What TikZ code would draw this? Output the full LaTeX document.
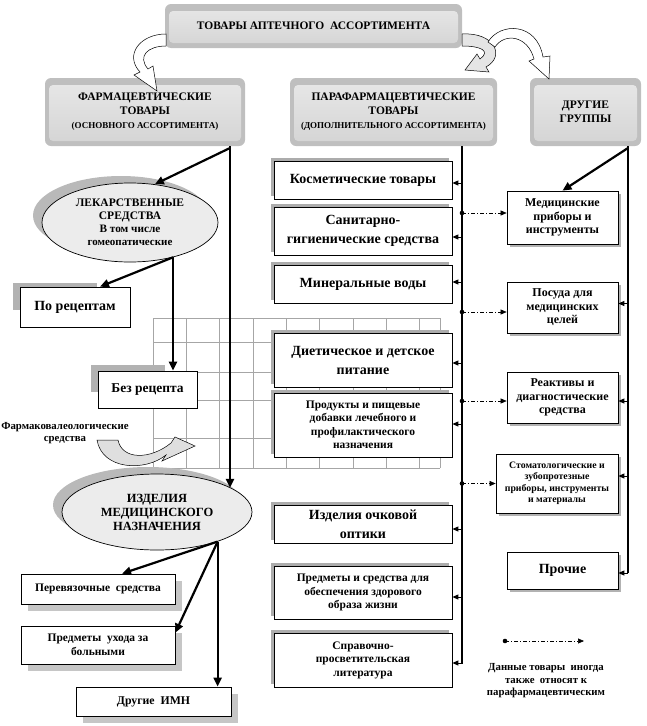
\documentclass[tikz,border=0pt]{standalone}
\usepackage{fontspec}
\setmainfont{Liberation Serif}
\usetikzlibrary{shapes.geometric,shadows,arrows.meta}
\newcommand\fsz[2]{\fontsize{#1}{#2}\selectfont}
\begin{document}
\begin{tikzpicture}[x=1pt,y=-1pt,
  font=\bfseries,
  fs/.style 2 args={font=\bfseries\fsz{#1}{#2}},
  bevel/.style={rounded corners=6pt, fill=gray!50, align=center, inner sep=2pt,
    path picture={\fill[top color=gray!18, bottom color=gray!34, rounded corners=4pt]
      ([shift={(4pt,-7pt)}]path picture bounding box.north west) rectangle
      ([shift={(-4pt,5pt)}]path picture bounding box.south east);}},
  pbox/.style={draw=black, line width=0.7pt, fill=white, align=center, inner sep=1pt,
    drop shadow={shadow xshift=-3pt, shadow yshift=3pt, fill=gray!65, opacity=1}},
  rbox/.style={draw=black, line width=0.7pt, fill=white, align=center, inner sep=1pt,
    drop shadow={shadow xshift=3pt, shadow yshift=-3pt, fill=gray!60, opacity=1}},
  lbox/.style={draw=black, line width=0.7pt, fill=white, align=center, inner sep=1pt,
    drop shadow={shadow xshift=7pt, shadow yshift=-7pt, fill=gray!45, opacity=1}},
  qbox/.style={draw=black, line width=0.7pt, fill=white, align=center, inner sep=1pt},
  ell/.style={ellipse, draw=black, line width=0.7pt, fill=gray!15, inner sep=0pt, align=center,
    drop shadow={shadow xshift=-9pt, shadow yshift=7pt, fill=gray!55, opacity=1}},
  trunk/.style={line width=2.6pt},
  bigarr/.style={line width=2.2pt, -{Triangle[length=9pt,width=8pt]}},
  smallarr/.style={line width=0.9pt, -{Triangle[length=6pt,width=5pt]}},
  dd/.style={line width=0.6pt, dash pattern=on 4pt off 2pt on 1pt off 2pt, -{Triangle[length=6pt,width=5pt]}},
  hollow/.style={draw=black, line width=0.5pt},
  gridln/.style={draw=gray!70, line width=0.6pt},
]
\useasboundingbox (0,0) rectangle (646,726);

% background grid
\foreach \gx in {153,186.3,219.6,252.9,286.2,319.5,352.8,386.1,419.4,440}
  \draw[gridln] (\gx,318) -- (\gx,468);
\foreach \gy in {318,342,372,400,438,468}
  \draw[gridln] (153,\gy) -- (440,\gy);

% top level
\node[bevel, fs={11.5}{13}, minimum width=297pt, minimum height=44pt] (top) at (313.5,26)
  {ТОВАРЫ АПТЕЧНОГО\ \ АССОРТИМЕНТА};
\node[bevel, fs={11.5}{14}, minimum width=200pt, minimum height=68pt] (pharma) at (145,112)
  {ФАРМАЦЕВТИЧЕСКИЕ\\ТОВАРЫ\\{\fsz{9}{12}(ОСНОВНОГО АССОРТИМЕНТА)}};
\node[bevel, fs={11.5}{14}, minimum width=207pt, minimum height=68pt] (para) at (393.5,112)
  {ПАРАФАРМАЦЕВТИЧЕСКИЕ\\ТОВАРЫ\\{\fsz{9}{12}(ДОПОЛНИТЕЛЬНОГО АССОРТИМЕНТА)}};
\node[bevel, fs={11.5}{14}, minimum width=111pt, minimum height=68pt] (other) at (585.5,112)
  {ДРУГИЕ\\ГРУППЫ};

% curved hollow arrows from the top box
\filldraw[hollow, fill=white]
  (166,34) .. controls (140,34) and (124,55) .. (140,72)
  -- (134,75) -- (157,91) -- (153,66) -- (148,69)
  .. controls (137,56) and (148,46) .. (166,46) -- cycle;
\filldraw[hollow, fill=gray!20]
  (462,34) .. controls (494,32) and (506,56) .. (486,67)
  -- (489,72) -- (465,70) -- (477,54) -- (480,59)
  .. controls (491,51) and (481,46) .. (462,46) -- cycle;
\filldraw[hollow, fill=white]
  (488,42) .. controls (500,22) and (537,22) .. (543,57)
  -- (550,56) -- (549,79) -- (529,61) -- (534,59)
  .. controls (528,36) and (505,32) .. (495,47) -- cycle;

% left column
\node[ell, fs={11.5}{13}, minimum width=176pt, minimum height=79pt] (ls) at (130,222.5)
  {ЛЕКАРСТВЕННЫЕ\\СРЕДСТВА\\{\fsz{11.3}{13}В том числе}\\{\fsz{11}{13}гомеопатические}};
\fill[gray!60] (13,283) rectangle (97,310);
\node[qbox, fs={14}{16}, minimum width=110pt, minimum height=40pt] (porec) at (75,307)
  {По рецептам};
\fill[gray!60] (91,365) rectangle (165,392);
\node[qbox, fs={13.5}{15}, minimum width=99pt, minimum height=37pt] (bezrec) at (147.5,389.5)
  {Без рецепта};
\node[align=center, fs={10.8}{12.5}] (farmval) at (65,433)
  {Фармаковалеологические\\средства};
\filldraw[hollow, fill=gray!25]
  (97,440) .. controls (102,470) and (145,472) .. (166,455)
  -- (162,461) -- (195,446) -- (175,437) -- (171,443)
  .. controls (150,460) and (122,460) .. (118,440) -- cycle;

\node[ell, fs={12.5}{14}, minimum width=190pt, minimum height=76pt] (imn) at (157,512)
  {ИЗДЕЛИЯ\\МЕДИЦИНСКОГО\\НАЗНАЧЕНИЯ};
\node[lbox, fs={11.5}{13}, minimum width=154pt, minimum height=30pt] (perev) at (98,589)
  {Перевязочные\ \ средства};
\node[lbox, fs={11.5}{14}, minimum width=154pt, minimum height=38pt] (uhod) at (98,645)
  {Предметы\ \ ухода\ за\\больными};
\node[lbox, fs={11.8}{13}, minimum width=155pt, minimum height=29pt] (drimn) at (153.5,701.5)
  {Другие\ \ ИМН};

\coordinate (lt) at (230,146);
\draw[bigarr] (lt) -- (lt |- imn.18);
\draw[bigarr] ([yshift=-2pt]lt) -- (ls.57);
\draw[bigarr] (ls.-39) -- ([xshift=25pt]porec.north);
\draw[bigarr] (ls.-39) -- (ls.-39 |- bezrec.north);
\draw[bigarr] (imn.-26) -- ([xshift=24pt]perev.north);
\draw[bigarr] (imn.-26) -- ([yshift=-7pt]uhod.north east);
\draw[bigarr] (imn.-26) -- (imn.-26 |- drimn.north);

% middle column
\node[pbox, fs={14}{16}, minimum width=178pt, minimum height=38pt] (kosm) at (363,180)
  {Косметические товары};
\node[pbox, fs={14}{19}, minimum width=178pt, minimum height=48pt] (sanit) at (363,231)
  {Санитарно-\\гигиенические\ средства};
\node[pbox, fs={14}{16}, minimum width=178pt, minimum height=38pt] (miner) at (363,284)
  {Минеральные воды};
\node[pbox, fs={14}{19}, minimum width=178pt, minimum height=54pt] (diet) at (363,360)
  {Диетическое и детское\\питание};
\node[pbox, fs={11.5}{13.5}, minimum width=178pt, minimum height=64pt] (prod) at (363,425)
  {Продукты и пищевые\\добавки лечебного и\\профилактического\\назначения};
\node[pbox, fs={14}{18.5}, minimum width=178pt, minimum height=38pt, inner sep=0pt] (optik) at (363,524)
  {Изделия очковой\\оптики};
\node[pbox, fs={11.5}{13.5}, minimum width=178pt, minimum height=53pt] (zozh) at (363,592.5)
  {Предметы и средства для\\обеспечения здорового\\образа жизни};
\node[pbox, fs={11.5}{13.5}, minimum width=178pt, minimum height=54pt] (sprav) at (363,660)
  {Справочно-\\просветительская\\литература};

\coordinate (mt) at (462,146);
\draw[trunk] (mt) -- (mt |- 0,664);
\foreach \bx/\sh in {kosm/-3, sanit/-6, miner/2, diet/-3, prod/1, optik/-5, zozh/-4.5, sprav/-3}
  \draw[smallarr] ([yshift=\sh pt]\bx.east -| mt) -- ([yshift=\sh pt]\bx.east);

% right column
\node[rbox, fs={12}{13.5}, minimum width=111pt, minimum height=53pt] (medpr) at (562.5,217.5)
  {Медицинские\\приборы и\\инструменты};
\node[rbox, fs={12}{13.5}, minimum width=111pt, minimum height=51pt] (posuda) at (562.5,307.5)
  {Посуда для\\медицинских\\целей};
\node[rbox, fs={12}{13.5}, minimum width=111pt, minimum height=51pt] (reakt) at (562.5,397.5)
  {Реактивы и\\диагностические\\средства};
\node[rbox, fs={9.8}{11.5}, minimum width=122pt, minimum height=59pt] (stom) at (557,483.5)
  {Стоматологические и\\зубопротезные\\приборы, инструменты\\и материалы};
\node[rbox, fs={14}{16}, minimum width=111pt, minimum height=37pt] (proch) at (562.5,570.5)
  {Прочие};

\coordinate (rt) at (628,146);
\draw[trunk] (rt) -- ([yshift=-2.5pt]rt |- proch.east);
\draw[smallarr] ([yshift=-2.5pt]rt |- proch.east) -- ([yshift=-2.5pt]proch.east);
\draw[bigarr] ([yshift=-2pt]rt) -- (medpr.north);
\draw[smallarr] ([yshift=4pt]posuda.east -| rt) -- ([yshift=4pt]posuda.east);
\draw[smallarr] ([yshift=-3.5pt]reakt.east -| rt) -- ([yshift=-3.5pt]reakt.east);
\draw[smallarr] ([yshift=7.5pt]stom.east -| rt) -- ([yshift=7.5pt]stom.east);

% dash-dot links
\foreach \bx/\sh in {medpr/4.5, posuda/-4.5, reakt/-3.5, stom/0} {
  \fill ([yshift=\sh pt]\bx.west -| mt) circle (2.3pt);
  \draw[dd] ([yshift=\sh pt]\bx.west -| mt) -- ([yshift=\sh pt]\bx.west);
}

% legend
\coordinate (legA) at (505,641);
\coordinate (legB) at (584,641);
\fill (legA) circle (2.3pt);
\draw[dd] (legA) -- (legB);
\node[align=center, fs={10.8}{12.5}] (legtxt) at (546,681)
  {Данные товары\ \ иногда\\также\ \ относят к\\парафармацевтическим};
\end{tikzpicture}
\end{document}
